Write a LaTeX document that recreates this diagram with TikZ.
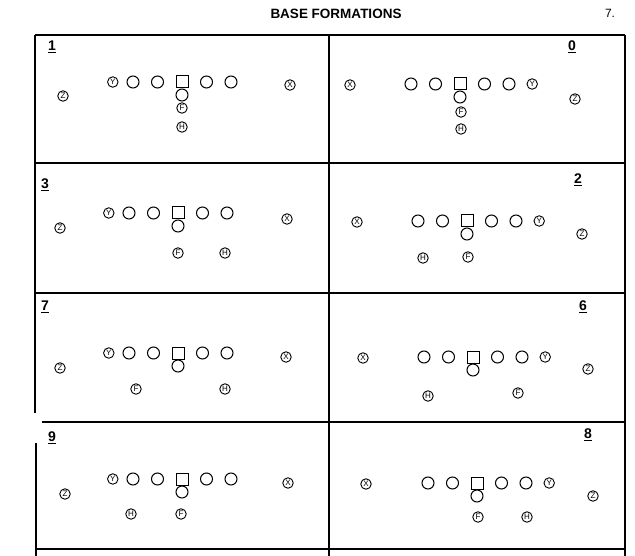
\documentclass[tikz,border=0pt]{standalone}
\usepackage{fontspec}
\setmainfont{Liberation Sans}
\usetikzlibrary{positioning}

\begin{document}
\begin{tikzpicture}[
    x=1pt, y=-1pt,
    node distance=11.5pt,
    lineman/.style={circle, draw, line width=1pt, minimum size=12pt, inner sep=0pt},
    snap/.style={rectangle, draw, line width=1pt, minimum size=12pt, inner sep=0pt},
    back/.style={circle, draw, line width=0.9pt, minimum size=10.5pt, inner sep=0pt,
      font=\fontsize{8}{8}\selectfont},
    fnum/.style={font=\bfseries\fontsize{14}{14}\selectfont},
    frame/.style={line width=1.5pt}
  ]
  \useasboundingbox (0,0) rectangle (635,556);

  % Title
  \node[font=\bfseries\fontsize{13.5}{13.5}\selectfont] (title) at (336,14) {BASE FORMATIONS};
  \node[font=\fontsize{12}{12}\selectfont] (page) at (610,13) {7.};

  % Frame
  \draw[frame] (35,35) -- (625,35);
  \draw[frame] (35,163) -- (625,163);
  \draw[frame] (35,293) -- (625,293);
  \draw[frame] (42,422) -- (625,422);
  \draw[frame] (35,549) -- (625,549);
  \draw[frame] (35,35) -- (35,413);
  \draw[frame] (36,443) -- (36,556);
  \draw[frame] (329,35) -- (329,556);
  \draw[frame] (625,35) -- (625,556);

  % Formation 1
  \node[fnum] (n1) at (52,47) {\underline{1}};
  \node[snap] (c1) at (182,82) {};
  \node[lineman, left=of c1] (lg1) {};
  \node[lineman, left=of lg1] (lt1) {};
  \node[lineman, right=of c1] (rg1) {};
  \node[lineman, right=of rg1] (rt1) {};
  \node[back, left=8pt of lt1] (y1) {Y};
  \node[lineman, below=0pt of c1] (qb1) {};
  \node[back] (f1) at (182,108) {F};
  \node[back] (h1) at (182,127) {H};
  \node[back] (z1) at (63,96) {Z};
  \node[back] (x1) at (290,85) {X};

  % Formation 0
  \node[fnum] (n0) at (572,47) {\underline{0}};
  \node[snap] (c0) at (460,84) {};
  \node[lineman, left=of c0] (lg0) {};
  \node[lineman, left=of lg0] (lt0) {};
  \node[lineman, right=of c0] (rg0) {};
  \node[lineman, right=of rg0] (rt0) {};
  \node[back, right=11pt of rt0] (y0) {Y};
  \node[lineman, below=0pt of c0] (qb0) {};
  \node[back] (f0) at (461,112) {F};
  \node[back] (h0) at (461,129) {H};
  \node[back] (z0) at (575,99) {Z};
  \node[back] (x0) at (350,85) {X};

  % Formation 3
  \node[fnum] (n3) at (45,185) {\underline{3}};
  \node[snap] (c3) at (178,213) {};
  \node[lineman, left=of c3] (lg3) {};
  \node[lineman, left=of lg3] (lt3) {};
  \node[lineman, right=of c3] (rg3) {};
  \node[lineman, right=of rg3] (rt3) {};
  \node[back, left=8pt of lt3] (y3) {Y};
  \node[lineman, below=0pt of c3] (qb3) {};
  \node[back] (f3) at (178,253) {F};
  \node[back] (h3) at (225,253) {H};
  \node[back] (z3) at (60,228) {Z};
  \node[back] (x3) at (287,219) {X};

  % Formation 2
  \node[fnum] (n2) at (578,180) {\underline{2}};
  \node[snap] (c2) at (467,221) {};
  \node[lineman, left=of c2] (lg2) {};
  \node[lineman, left=of lg2] (lt2) {};
  \node[lineman, right=of c2] (rg2) {};
  \node[lineman, right=of rg2] (rt2) {};
  \node[back, right=11pt of rt2] (y2) {Y};
  \node[lineman, below=0pt of c2] (qb2) {};
  \node[back] (h2) at (423,258) {H};
  \node[back] (f2) at (468,257) {F};
  \node[back] (z2) at (582,234) {Z};
  \node[back] (x2) at (357,222) {X};

  % Formation 7
  \node[fnum] (n7) at (45,307) {\underline{7}};
  \node[snap] (c7) at (178,353) {};
  \node[lineman, left=of c7] (lg7) {};
  \node[lineman, left=of lg7] (lt7) {};
  \node[lineman, right=of c7] (rg7) {};
  \node[lineman, right=of rg7] (rt7) {};
  \node[back, left=8pt of lt7] (y7) {Y};
  \node[lineman, below=0pt of c7] (qb7) {};
  \node[back] (f7) at (136,389) {F};
  \node[back] (h7) at (225,389) {H};
  \node[back] (z7) at (60,368) {Z};
  \node[back] (x7) at (286,357) {X};

  % Formation 6
  \node[fnum] (n6) at (583,307) {\underline{6}};
  \node[snap] (c6) at (473,357) {};
  \node[lineman, left=of c6] (lg6) {};
  \node[lineman, left=of lg6] (lt6) {};
  \node[lineman, right=of c6] (rg6) {};
  \node[lineman, right=of rg6] (rt6) {};
  \node[back, right=11pt of rt6] (y6) {Y};
  \node[lineman, below=0pt of c6] (qb6) {};
  \node[back] (h6) at (428,396) {H};
  \node[back] (f6) at (518,393) {F};
  \node[back] (z6) at (588,369) {Z};
  \node[back] (x6) at (363,358) {X};

  % Formation 9
  \node[fnum] (n9) at (52,438) {\underline{9}};
  \node[snap] (c9) at (182,479) {};
  \node[lineman, left=of c9] (lg9) {};
  \node[lineman, left=of lg9] (lt9) {};
  \node[lineman, right=of c9] (rg9) {};
  \node[lineman, right=of rg9] (rt9) {};
  \node[back, left=8pt of lt9] (y9) {Y};
  \node[lineman, below=0pt of c9] (qb9) {};
  \node[back] (h9) at (131,514) {H};
  \node[back] (f9) at (181,514) {F};
  \node[back] (z9) at (65,494) {Z};
  \node[back] (x9) at (288,483) {X};

  % Formation 8
  \node[fnum] (n8) at (588,435) {\underline{8}};
  \node[snap] (c8) at (477,483) {};
  \node[lineman, left=of c8] (lg8) {};
  \node[lineman, left=of lg8] (lt8) {};
  \node[lineman, right=of c8] (rg8) {};
  \node[lineman, right=of rg8] (rt8) {};
  \node[back, right=11pt of rt8] (y8) {Y};
  \node[lineman, below=0pt of c8] (qb8) {};
  \node[back] (f8) at (478,517) {F};
  \node[back] (h8) at (527,517) {H};
  \node[back] (z8) at (593,496) {Z};
  \node[back] (x8) at (366,484) {X};
\end{tikzpicture}
\end{document}
